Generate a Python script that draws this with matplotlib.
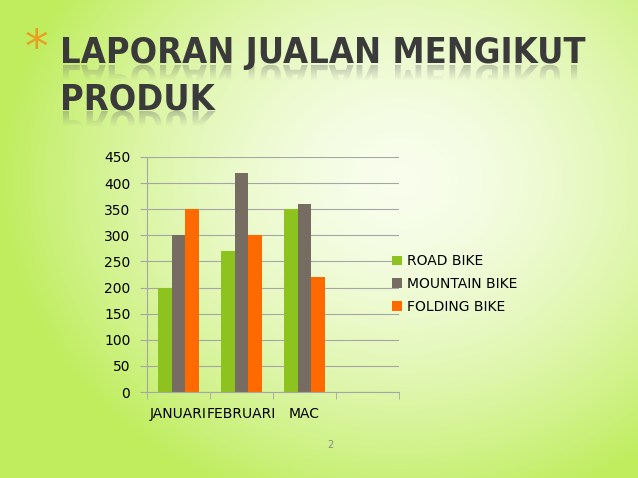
import numpy as np
import matplotlib
matplotlib.use("Agg")
import matplotlib.pyplot as plt
from matplotlib import font_manager as fm
from matplotlib.textpath import TextPath
from matplotlib.patches import PathPatch
from matplotlib.font_manager import FontProperties
from matplotlib.transforms import Affine2D

months = ["JANUARI", "FEBRUARI", "MAC"]
n_slots = 4  # the chart keeps one empty category on the right
series = ["ROAD BIKE", "MOUNTAIN BIKE", "FOLDING BIKE"]
road = [200, 270, 350]
mountain = [300, 420, 360]
folding = [350, 300, 220]
colors = ["#8dc21f", "#776c61", "#ff6a00"]

W, H = 638, 478
fig = plt.figure(figsize=(W / 100, H / 100), dpi=100)

# background: light centre fading to lime at the edges
bg = fig.add_axes([0, 0, 1, 1])
bg.set_xlim(0, W)
bg.set_ylim(H, 0)
bg.axis("off")
yy, xx = np.mgrid[0:H, 0:W]
d = np.sqrt(((xx - 400) / 400.0) ** 2 + ((yy - 180) / 340.0) ** 2)
t = np.clip(d, 0, 1) ** 1.6
centre = np.array([0.975, 0.995, 0.93])
edge = np.array([0.75, 0.93, 0.37])
img = centre[None, None, :] * (1 - t[..., None]) + edge[None, None, :] * t[..., None]
bg.imshow(img, extent=(0, W, H, 0), aspect="auto", zorder=0)


# title font: a narrow bold face if one is installed
def pick_title_font():
    def is_bold(f):
        try:
            return int(f.weight) >= 600
        except ValueError:
            return f.weight in ("bold", "heavy", "black", "demibold", "semibold")
    narrow = [f for f in fm.fontManager.ttflist
              if is_bold(f) and f.style == "normal"
              and ("Narrow" in f.name or "Condensed" in f.name
                   or f.stretch in ("condensed", "semi-condensed", "extra-condensed"))]
    narrow.sort(key=lambda f: (0 if "Condensed" in f.fname and "Extra" not in f.fname else 1, f.fname))
    if narrow:
        return FontProperties(fname=narrow[0].fname)
    return FontProperties(family=["Roboto", "DejaVu Sans"], weight="bold")


fp = pick_title_font()
size_px = 41
w1 = TextPath((0, 0), "LAPORAN JUALAN MENGIKUT", size=size_px, prop=fp).get_extents().width
size_px = min(size_px, size_px * 522 / w1)
fp.set_size(size_px * 0.72)

lines = [("LAPORAN JUALAN MENGIKUT", 63), ("PRODUK", 109)]
fade = np.zeros((40, 2, 4))
fade[..., :3] = 0.45
fade[..., 3] = (0.38 * np.clip(1 - np.arange(40) / 15.0, 0, 1))[:, None]
for s, base in lines:
    bg.text(60, base, s, fontproperties=fp, color="#3a3a3a",
            va="baseline", ha="left", zorder=3)
    # mirrored copy below the baseline, faded out with an alpha ramp
    tp = TextPath((0, 0), s, size=size_px, prop=fp)
    clip = PathPatch(tp, transform=Affine2D().translate(60, base + 2) + bg.transData,
                     facecolor="none", edgecolor="none")
    bg.add_patch(clip)
    im = bg.imshow(fade, extent=(50, 600, base + 42, base + 2), aspect="auto",
                   zorder=2, interpolation="bilinear")
    im.set_clip_path(clip)

bg.set_xlim(0, W)
bg.set_ylim(H, 0)

bg.text(36, 62, "*", fontsize=34, color="#e8a020", ha="center", va="baseline", zorder=3)
bg.text(330, 445, "2", fontsize=7, color="#8a8a8a", ha="center", va="center")

# chart
ax = fig.add_axes([147 / W, 86 / H, 252 / W, 235 / H], zorder=1)
ax.patch.set_alpha(0)
x = np.arange(len(months))
w = 0.222
for k, (name, vals) in enumerate(zip(series, [road, mountain, folding])):
    ax.bar(x + (k - 1) * w, vals, width=w, color=colors[k], label=name, zorder=2)

ax.set_xlim(-0.5, n_slots - 0.5)
ax.set_ylim(0, 450)
ax.set_yticks(np.arange(0, 451, 50))
ax.yaxis.grid(True, color="#a6a6a6", linewidth=0.8, zorder=0)
ax.set_xticks(x)
ax.set_xticklabels(months)
ax.set_xticks(np.arange(-0.5, n_slots, 1), minor=True)
ax.tick_params(axis="x", which="major", length=0, pad=11, labelsize=10)
ax.tick_params(axis="x", which="minor", length=5, color="#a6a6a6", direction="out")
ax.tick_params(axis="y", length=5, color="#a6a6a6", pad=7, labelsize=10)
for sp in ["top", "right"]:
    ax.spines[sp].set_visible(False)
for sp in ["left", "bottom"]:
    ax.spines[sp].set_color("#a6a6a6")
    ax.spines[sp].set_linewidth(0.8)

fig.legend(loc="center left", bbox_to_anchor=(392 / W, (H - 284) / H), frameon=False,
           fontsize=10, handlelength=0.7, handleheight=0.7, handletextpad=0.4,
           labelspacing=0.62, borderpad=0, borderaxespad=0)

fig.savefig("out.png", dpi=100)
